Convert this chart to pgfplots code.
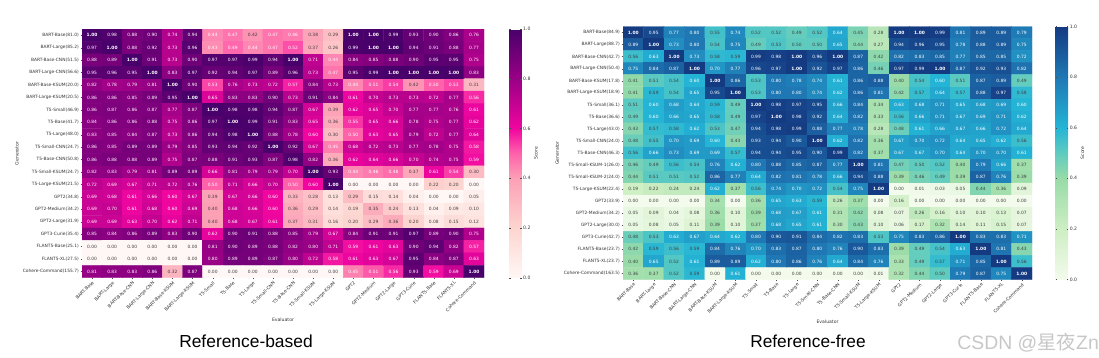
\documentclass[border=0pt]{standalone}
\usepackage{pgfplots}
\usepackage{pgfplotstable}
\usepackage{fontspec}
\pgfplotsset{compat=1.18}
\setmainfont{DejaVu Sans}
\newfontfamily\titlefont{Liberation Sans}
\newfontfamily\cjk{Noto Sans CJK SC}
\pgfplotsset{
 colormap={refbased}{rgb255(0)=(255,247,245) rgb255(20)=(253,213,208) rgb255(40)=(252,160,182) rgb255(50)=(255,98,171) rgb255(60)=(240,5,159) rgb255(80)=(153,0,133) rgb255(100)=(72,0,106)},
 colormap={reffree}{rgb255(0)=(243,251,236) rgb255(20)=(205,238,195) rgb255(40)=(152,219,168) rgb255(50)=(95,203,191) rgb255(60)=(36,181,214) rgb255(80)=(31,120,180) rgb255(100)=(20,58,130)},
 heat/.style={
  scale only axis, axis line style={draw=none},
  xmin=-0.5,xmax=19.5,ymin=-0.5,y dir=reverse,
  xtick={0,...,19}, xtick pos=bottom, ytick pos=left, tick align=outside,
  major tick length=1.5pt, tick style={black!70,line width=0.25pt},
  xticklabel style={rotate=45,anchor=north east,font=\fontsize{4.5}{5}\selectfont,text=black!80,inner sep=1pt},
  yticklabel style={font=\fontsize{4.4}{5}\selectfont,text=black!80,inner sep=1.5pt},
  point meta min=0, point meta max=1,
  xlabel=Evaluator, ylabel=Generator,
  label style={font=\fontsize{4.6}{5}\selectfont,text=black!80},
  xticklabels={BART-Base,BART-Large,BART-Base-CNN,BART-Large-CNN,BART-Base-KSUM,BART-Large-KSUM,T5-Small,T5-Base,T5-Large,T5-Small-CNN,T5-Base-CNN,T5-Small-KSUM,T5-Large-KSUM,GPT2,GPT2-Medium,GPT2-Large,GPT3-Curie,FLANT5-Base,FLANT5-XL,Cohere-Command},
  colorbar,
 },
 cbar/.style={
  colorbar style={
   at={(parent axis.north east)},anchor=north west,xshift=#1,
   width=12.5pt, ytick={0,0.2,0.4,0.6,0.8,1},
   axis line style={draw=none},
   yticklabel style={font=\fontsize{4.6}{5}\selectfont,text=black!80,
     /pgf/number format/fixed,/pgf/number format/fixed zerofill,/pgf/number format/precision=1,/pgf/number format/assume math mode=true,inner sep=1.5pt},
   ylabel=Score,
   ylabel style={font=\fontsize{4.6}{5}\selectfont,text=black!80,at={(axis description cs:2.15,0.5)},anchor=center},
   major tick length=1.5pt, tick style={black!70,line width=0.25pt},
  }
 },
}
\newcommand\cellnode[1]{\pgfmathfloattofixed{\pgfplotspointmeta}\edef\cv{\pgfmathresult}%
 \ifdim\cv pt>0.995pt\bfseries\fi\ifdim\cv pt>#1pt\color{white}\else\color{black!75}\fi
 \pgfmathprintnumber[fixed,fixed zerofill,precision=2,assume math mode=true]{\cv}}
\pgfplotstableread[row sep=\\,header=false]{
1.00\\.98\\.88\\.90\\.74\\.94\\.44\\.47\\.42\\.47\\.46\\.38\\.29\\1.00\\1.00\\.99\\.93\\.90\\.86\\.76\\
.97\\1.00\\.88\\.92\\.73\\.96\\.43\\.49\\.44\\.47\\.52\\.37\\.26\\.99\\1.00\\1.00\\.94\\.91\\.88\\.77\\
.88\\.89\\1.00\\.91\\.73\\.90\\.97\\.97\\.99\\.94\\1.00\\.71\\.44\\.84\\.85\\.88\\.90\\.95\\.95\\.75\\
.95\\.96\\.95\\1.00\\.83\\.97\\.92\\.94\\.97\\.89\\.96\\.73\\.47\\.95\\.99\\1.00\\1.00\\1.00\\1.00\\.83\\
.82\\.78\\.79\\.81\\1.00\\.90\\.53\\.76\\.73\\.72\\.57\\.84\\.73\\.44\\.51\\.54\\.42\\.50\\.53\\.31\\
.86\\.86\\.85\\.89\\.95\\1.00\\.65\\.83\\.83\\.90\\.73\\.91\\.84\\.61\\.70\\.73\\.73\\.72\\.77\\.56\\
.86\\.87\\.86\\.87\\.77\\.87\\1.00\\.98\\.98\\.94\\.87\\.67\\.39\\.62\\.65\\.70\\.77\\.77\\.76\\.61\\
.84\\.86\\.86\\.88\\.75\\.86\\.97\\1.00\\.99\\.91\\.83\\.65\\.36\\.55\\.65\\.66\\.78\\.75\\.77\\.62\\
.83\\.85\\.84\\.87\\.73\\.86\\.94\\.98\\1.00\\.88\\.78\\.60\\.30\\.50\\.63\\.65\\.79\\.72\\.77\\.64\\
.86\\.85\\.89\\.89\\.79\\.85\\.93\\.94\\.92\\1.00\\.92\\.67\\.45\\.68\\.72\\.73\\.77\\.78\\.75\\.58\\
.86\\.88\\.88\\.89\\.75\\.87\\.88\\.91\\.93\\.87\\.98\\.82\\.36\\.62\\.64\\.66\\.70\\.74\\.75\\.59\\
.82\\.83\\.79\\.81\\.89\\.89\\.66\\.81\\.79\\.79\\.70\\1.00\\.93\\.44\\.46\\.48\\.37\\.61\\.54\\.30\\
.72\\.69\\.67\\.71\\.72\\.76\\.50\\.71\\.66\\.70\\.50\\.60\\1.00\\.00\\.00\\.00\\.00\\.22\\.20\\.00\\
.69\\.68\\.61\\.66\\.60\\.67\\.39\\.67\\.66\\.60\\.33\\.28\\.13\\.29\\.15\\.14\\.04\\.00\\.00\\.05\\
.69\\.70\\.61\\.68\\.60\\.69\\.40\\.68\\.66\\.60\\.36\\.29\\.14\\.19\\.35\\.24\\.13\\.04\\.09\\.10\\
.69\\.69\\.63\\.70\\.62\\.71\\.40\\.68\\.67\\.61\\.37\\.31\\.16\\.20\\.29\\.36\\.20\\.08\\.15\\.12\\
.85\\.84\\.86\\.89\\.83\\.90\\.62\\.90\\.91\\.88\\.85\\.79\\.67\\.84\\.91\\.91\\.97\\.89\\.90\\.75\\
.00\\.00\\.00\\.00\\.00\\.00\\.81\\.90\\.89\\.88\\.82\\.80\\.71\\.59\\.61\\.63\\.90\\.94\\.82\\.57\\
.00\\.00\\.00\\.00\\.00\\.00\\.80\\.89\\.89\\.87\\.80\\.72\\.58\\.61\\.63\\.67\\.95\\.84\\.87\\.63\\
.81\\.83\\.83\\.86\\.32\\.87\\.00\\.00\\.00\\.00\\.00\\.00\\.00\\.45\\.51\\.56\\.93\\.59\\.69\\1.00\\
}\leftdata
\pgfplotstableread[row sep=\\,header=false]{
1.00\\.95\\.77\\.80\\.55\\.74\\.52\\.52\\.49\\.52\\.64\\.45\\.28\\1.00\\1.00\\.99\\.81\\.89\\.89\\.79\\
.89\\1.00\\.73\\.80\\.54\\.75\\.49\\.53\\.50\\.50\\.65\\.44\\.27\\.94\\.96\\.95\\.78\\.88\\.89\\.75\\
.56\\.63\\1.00\\.73\\.58\\.59\\.99\\.98\\1.00\\.96\\1.00\\.87\\.42\\.82\\.83\\.85\\.77\\.85\\.85\\.72\\
.75\\.84\\.87\\1.00\\.70\\.77\\.96\\.97\\1.00\\.92\\.97\\.86\\.46\\.97\\.99\\1.00\\.87\\.92\\.93\\.82\\
.41\\.51\\.54\\.60\\1.00\\.86\\.53\\.80\\.78\\.74\\.61\\.86\\.88\\.40\\.54\\.60\\.51\\.87\\.89\\.49\\
.41\\.59\\.54\\.65\\.95\\1.00\\.53\\.80\\.80\\.74\\.62\\.86\\.81\\.42\\.57\\.64\\.57\\.88\\.97\\.58\\
.51\\.60\\.68\\.64\\.59\\.49\\1.00\\.98\\.97\\.95\\.66\\.84\\.34\\.63\\.68\\.71\\.65\\.68\\.69\\.60\\
.49\\.60\\.66\\.65\\.58\\.49\\.97\\1.00\\.98\\.92\\.64\\.82\\.33\\.56\\.66\\.71\\.67\\.69\\.71\\.62\\
.43\\.57\\.58\\.62\\.53\\.47\\.94\\.98\\.99\\.88\\.77\\.78\\.28\\.48\\.61\\.66\\.67\\.66\\.72\\.64\\
.48\\.55\\.70\\.69\\.60\\.43\\.93\\.94\\.90\\1.00\\.62\\.82\\.36\\.67\\.70\\.72\\.64\\.65\\.62\\.56\\
.56\\.66\\.73\\.69\\.69\\.57\\.94\\.94\\.95\\.90\\.99\\.82\\.37\\.67\\.67\\.70\\.64\\.70\\.70\\.61\\
.46\\.49\\.56\\.54\\.76\\.62\\.80\\.88\\.85\\.87\\.77\\1.00\\.81\\.47\\.50\\.52\\.40\\.79\\.66\\.37\\
.44\\.51\\.51\\.52\\.86\\.77\\.64\\.82\\.81\\.78\\.66\\.94\\.88\\.39\\.46\\.49\\.39\\.87\\.76\\.39\\
.19\\.22\\.24\\.24\\.62\\.37\\.56\\.74\\.70\\.72\\.54\\.75\\1.00\\.00\\.01\\.03\\.05\\.44\\.36\\.09\\
.00\\.00\\.00\\.00\\.34\\.00\\.36\\.65\\.63\\.59\\.26\\.37\\.00\\.16\\.00\\.00\\.00\\.00\\.00\\.00\\
.05\\.09\\.04\\.08\\.36\\.10\\.39\\.68\\.67\\.61\\.31\\.42\\.08\\.07\\.26\\.16\\.10\\.10\\.13\\.07\\
.05\\.08\\.05\\.11\\.39\\.10\\.37\\.68\\.65\\.61\\.30\\.43\\.10\\.06\\.17\\.32\\.14\\.11\\.15\\.07\\
.48\\.53\\.63\\.67\\.64\\.62\\.80\\.90\\.91\\.84\\.82\\.83\\.53\\.75\\.83\\.86\\1.00\\.83\\.83\\.71\\
.42\\.59\\.56\\.59\\.84\\.76\\.70\\.83\\.87\\.80\\.76\\.90\\.83\\.39\\.49\\.54\\.63\\1.00\\.81\\.43\\
.40\\.65\\.52\\.61\\.89\\.89\\.62\\.80\\.86\\.76\\.64\\.84\\.76\\.33\\.49\\.57\\.71\\.85\\1.00\\.56\\
.36\\.37\\.52\\.59\\.00\\.61\\.00\\.00\\.00\\.00\\.00\\.00\\.01\\.32\\.44\\.50\\.79\\.87\\.75\\1.00\\
}\rightdata
\begin{document}
\begin{tikzpicture}[x=1pt,y=1pt]
\path[use as bounding box] (0,0) rectangle (1099,357);
\begin{axis}[heat, at={(82pt,79.3pt)},anchor=south west,width=402pt,height=248.7pt,
  ymax=19.5, ytick={0,...,19},
  colormap name=refbased, cbar=16.5pt,
  xlabel style={at={(axis description cs:0.5,-0.169)},anchor=center},
  ylabel style={at={(axis description cs:-0.162,0.5)},anchor=center},
  yticklabels={BART-Base(81.0),BART-Large(85.2),BART-Base-CNN(51.5),BART-Large-CNN(56.6),BART-Base-KSUM(20.0),BART-Large-KSUM(20.5),T5-Small(46.9),T5-Base(41.7),T5-Large(48.0),T5-Small-CNN(24.7),T5-Base-CNN(50.8),T5-Small-KSUM(24.7),T5-Large-KSUM(21.5),GPT2(34.8),GPT2-Medium(34.2),GPT2-Large(31.9),GPT3-Curie(35.4),FLANT5-Base(25.1),FLANT5-XL(27.5),Cohere-Command(155.7)},
]
\addplot[matrix plot*,mesh/cols=20,point meta=explicit] table[x index=0,y index=0,x expr={mod(\coordindex,20)},y expr={floor((\coordindex+0.5)/20)},meta index=0] {\leftdata};
\addplot[only marks,mark size=0pt,point meta=explicit,nodes near coords={\cellnode{0.42}},nodes near coords align=center,
  every node near coord/.style={anchor=center,inner sep=0pt,font=\fontsize{4.4}{5}\selectfont}]
  table[x index=0,y index=0,x expr={mod(\coordindex,20)},y expr={floor((\coordindex+0.5)/20)},meta index=0] {\leftdata};
\end{axis}
\begin{axis}[heat, at={(623pt,77.5pt)},anchor=south west,width=409pt,height=253pt,
  ymax=20.5, ytick={0,...,20},
  colormap name=reffree, cbar=15pt,
  xlabel style={at={(axis description cs:0.5,-0.168)},anchor=center},
  ylabel style={at={(axis description cs:-0.161,0.5)},anchor=center},
  yticklabels={BART-Base(84.9),BART-Large(88.7),BART-Base-CNN(42.7),BART-Large-CNN(50.4),BART-Base-KSUM(17.8),BART-Large-KSUM(18.9),T5-Small(36.1),T5-Base(36.6),T5-Large(43.0),T5-Small-CNN(24.0),T5-Base-CNN(46.3),T5-Small-KSUM-1(26.0),T5-Small-KSUM-2(24.0),T5-Large-KSUM(22.4),GPT2(33.9),GPT2-Medium(34.2),GPT2-Large(30.0),GPT3-Curie(42.7),FLANT5-Base(23.7),FLANT5-XL(23.7),Cohere-Command(163.5)},
]
\addplot[matrix plot*,mesh/cols=20,point meta=explicit] table[x index=0,y index=0,x expr={mod(\coordindex,20)},y expr={floor((\coordindex+0.5)/20)},meta index=0] {\rightdata};
\addplot[only marks,mark size=0pt,point meta=explicit,nodes near coords={\cellnode{0.595}},nodes near coords align=center,
  every node near coord/.style={anchor=center,inner sep=0pt,font=\fontsize{4.4}{5}\selectfont}]
  table[x index=0,y index=0,x expr={mod(\coordindex,20)},y expr={floor((\coordindex+0.5)/20)},meta index=0] {\rightdata};
\end{axis}
\node[font=\titlefont\fontsize{17.4}{20}\selectfont,anchor=center] at (246,16) {Reference-based};
\node[font=\titlefont\fontsize{17.3}{20}\selectfont,anchor=center] at (808,16) {Reference-free};
\node[font=\titlefont\fontsize{19.4}{22}\selectfont,text=black!22,anchor=east,inner sep=0pt] at (1099,14) {CSDN @{\cjk 星夜}Zn};
\end{tikzpicture}
\end{document}
